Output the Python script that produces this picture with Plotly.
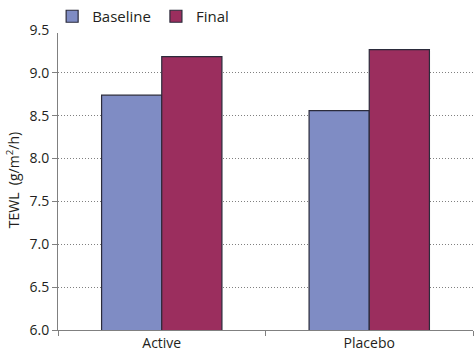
import plotly.graph_objects as go

categories = ["Active", "Placebo"]
baseline = [8.74, 8.56]
final = [9.19, 9.27]

fig = go.Figure()
fig.add_trace(go.Bar(name="Baseline", x=categories, y=baseline,
                     marker=dict(color="#7f8cc4", line=dict(color="#2b2b3b", width=1.2))))
fig.add_trace(go.Bar(name="Final", x=categories, y=final,
                     marker=dict(color="#9b2e5e", line=dict(color="#2b2b3b", width=1.2))))

fig.update_layout(
    width=474, height=354,
    margin=dict(l=58, r=1, t=30, b=24, autoexpand=False),
    barmode="group", bargap=0.42, bargroupgap=0,
    plot_bgcolor="white", paper_bgcolor="white",
    font=dict(family="Open Sans, Lato, sans-serif", size=14, color="#231f20"),
    legend=dict(orientation="h", x=0.11, y=1.0, xref="container", yref="container",
                xanchor="left", yanchor="top",
                font=dict(size=15), itemwidth=30, traceorder="normal"),
    showlegend=True,
)
fig.update_xaxes(showline=True, linecolor="#808080", linewidth=1,
                 ticks="outside", tickson="boundaries", ticklen=5, tickcolor="#808080",
                 range=[-0.5, 1.5], showgrid=False)
fig.update_yaxes(range=[6.0, 9.5], dtick=0.5, tickformat=".1f",
                 showline=True, linecolor="#808080", linewidth=1,
                 ticks="outside", ticklen=5, tickcolor="#808080",
                 showgrid=True, gridcolor="#808080", griddash="1px,2px", gridwidth=1,
                 zeroline=False,
                 title=dict(text="TEWL  (g/m<sup>2</sup>/h)", font=dict(size=14), standoff=6))

fig.write_html("out.html")
